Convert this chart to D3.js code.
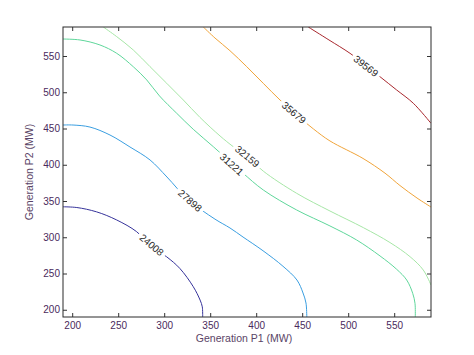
<!DOCTYPE html>
<html><head><meta charset="utf-8">
<script src="https://cdn.jsdelivr.net/npm/d3@7"></script>
<style>body{margin:0;background:#fff}svg{display:block}text{font-family:"Liberation Sans",Arial,sans-serif}</style>
</head><body><svg id="c" width="474" height="355"></svg>
<script>
const xTicks=[200,250,300,350,400,450,500,550];
const yTicks=[200,250,300,350,400,450,500,550];
const levels=[24008,27898,31221,32159,35679,39569];
const line24008=[[190,342],[205,341],[226.6,335],[248.4,323.8],[270,307.7],[284.6,289],[302.7,273],[317,257],[331.6,231.8],[339,213.4],[341.4,204],[341.8,190]];
const line27898=[[190,454.8],[200.9,454.8],[219.3,452],[241.1,441],[262.8,424.5],[284.6,406.6],[303,383.1],[325.9,352],[355.2,325],[371.5,312.8],[385.7,300.3],[407.4,281.4],[429.1,260],[444.3,241],[450.9,223.1],[454.1,209.3],[455,190]];
const line31221=[[190,573.4],[208.5,572.1],[230.2,565.2],[248.4,553.7],[266.4,535.2],[281,517],[294.9,494.9],[313.6,471],[331.6,448.9],[353.4,424.9],[373.4,402],[386,388],[407.7,365.2],[444,337.6],[480.2,315.6],[509.2,296.2],[534.6,274.2],[552.7,255.8],[563.6,241],[570.1,222.7],[572.6,208.9],[572.9,190]];
const line32159=[[233.8,590],[248.4,576.7],[266.4,558.3],[284.6,535.3],[302.7,512.4],[320.8,489.3],[338.9,465.3],[360.7,439.7],[375.1,424.9],[391.1,410.7],[407.7,391.2],[444,360.6],[480.2,336.2],[516.4,313.3],[545.4,292.7],[567.2,273.2],[581.6,254.8],[590,234.1]];
const line35679=[[342.5,590],[355.2,574.8],[371.5,557.3],[389.7,535.3],[407.7,512.3],[425.9,489.3],[444,468.6],[462.1,449.5],[480.2,432.8],[516.1,408.7],[540,388.4],[556.3,371.3],[574.8,354.1],[590,341.7]];
const line39569=[[456.6,590],[479.1,572.1],[502,553.7],[518.3,537.6],[534.6,521.4],[552.7,503.1],[570.8,484.8],[590,457.2]];
const contourLines=[line24008,line27898,line31221,line32159,line35679,line39569];
const labelAt=[[286.4,289.3],[328,350.5],[373.4,400.5],[390.3,411.5],[441,471.8],[519.3,536]];
const colors=["#35329a","#3a9ee0","#5ed69a","#a6e6a6","#f0a43a","#a8282e"];

const svg=d3.select("#c");
const L=63,R=431,T=27,B=317;
const x=d3.scaleLinear([190,590],[L,R]);
const y=d3.scaleLinear([190,590],[B,T]);

const defs=svg.append("defs");
defs.append("clipPath").attr("id","plotclip").append("rect").attr("x",L).attr("y",T).attr("width",R-L).attr("height",B-T);

const lineGen=d3.line().x(d=>x(d[0])).y(d=>y(d[1])).curve(d3.curveCatmullRom.alpha(0.5));

const plot=svg.append("g").attr("clip-path","url(#plotclip)");
contourLines.forEach((pts,i)=>{
  const lp=labelAt[i];
  const px=x(lp[0]),py=y(lp[1]);
  let best=0,bd=1e9;
  pts.forEach((p,j)=>{const d=Math.hypot(x(p[0])-px,y(p[1])-py);if(d<bd){bd=d;best=j;}});
  const a=pts[Math.max(0,best-1)],b=pts[Math.min(pts.length-1,best+1)];
  let ang=Math.atan2(y(b[1])-y(a[1]),x(b[0])-x(a[0]))*180/Math.PI;
  if(ang>90)ang-=180;if(ang<-90)ang+=180;
  const m=defs.append("mask").attr("id","m"+i).attr("maskUnits","userSpaceOnUse")
    .attr("x",0).attr("y",0).attr("width",474).attr("height",355);
  m.append("rect").attr("x",0).attr("y",0).attr("width",474).attr("height",355).attr("fill","#fff");
  m.append("rect").attr("x",-17).attr("y",-5).attr("width",34).attr("height",10).attr("fill","#000")
    .attr("transform",`translate(${px},${py}) rotate(${ang})`);
  plot.append("path").attr("d",lineGen(pts)).attr("fill","none").attr("stroke",colors[i])
    .attr("stroke-width",1).attr("mask",`url(#m${i})`);
  svg.append("text").attr("transform",`translate(${px},${py}) rotate(${ang})`)
    .attr("text-anchor","middle").attr("dy","0.35em").attr("font-size",10).attr("fill","#2a2a2a")
    .text(levels[i]);
});

const tickCol="#4a2a5c";
function styleAxis(g){g.select(".domain").remove();g.selectAll(".tick line").attr("stroke","#333");g.selectAll(".tick text").attr("fill",tickCol).attr("font-size",10).attr("font-family","Liberation Sans, Arial, sans-serif");}
svg.append("g").attr("transform",`translate(0,${B})`).call(d3.axisBottom(x).tickValues(xTicks).tickSizeInner(-4).tickSizeOuter(0).tickPadding(5)).call(styleAxis);
svg.append("g").attr("transform",`translate(0,${T})`).call(d3.axisTop(x).tickValues(xTicks).tickSizeInner(-4).tickSizeOuter(0).tickFormat("")).call(styleAxis);
svg.append("g").attr("transform",`translate(${L},0)`).call(d3.axisLeft(y).tickValues(yTicks).tickSizeInner(-4).tickSizeOuter(0).tickPadding(3)).call(styleAxis);
svg.append("g").attr("transform",`translate(${R},0)`).call(d3.axisRight(y).tickValues(yTicks).tickSizeInner(-4).tickSizeOuter(0).tickFormat("")).call(styleAxis);

svg.append("rect").attr("x",L).attr("y",T).attr("width",R-L).attr("height",B-T).attr("fill","none").attr("stroke","#2a2a2a").attr("stroke-width",1);

svg.append("text").attr("x",(L+R)/2-3).attr("y",342).attr("text-anchor","middle").attr("font-size",10.5).attr("fill","#5a4466").text("Generation P1 (MW)");
svg.append("text").attr("transform",`translate(33,${(T+B)/2}) rotate(-90)`).attr("text-anchor","middle").attr("font-size",10.5).attr("fill","#5a4466").text("Generation P2 (MW)");
</script></body></html>
